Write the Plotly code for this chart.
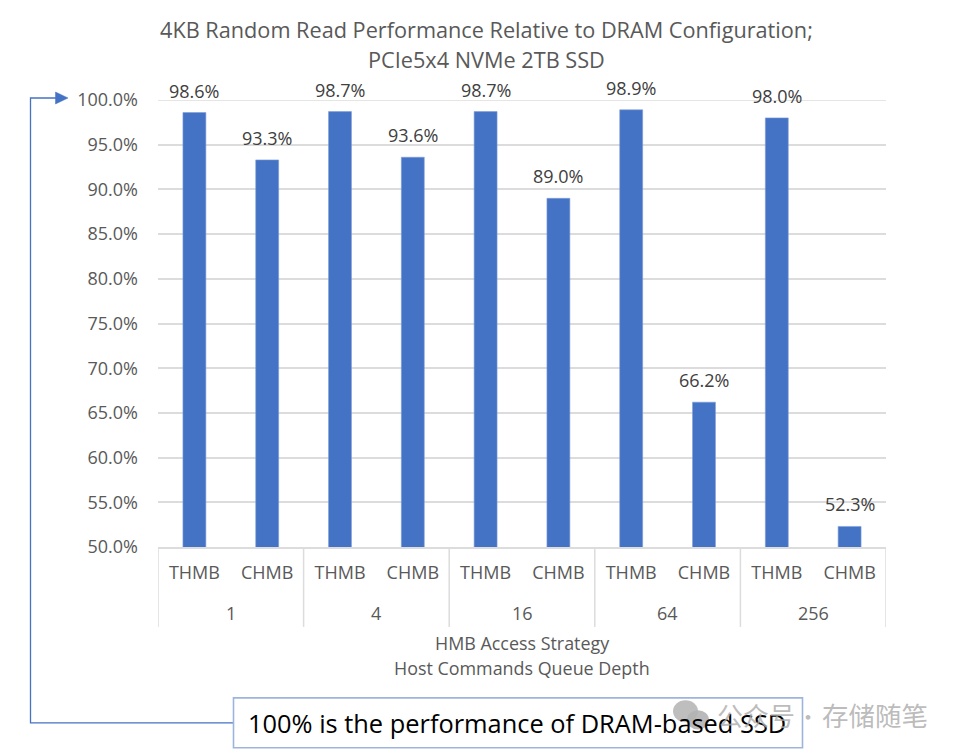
import plotly.graph_objects as go

# Chart data
queue_depths = ["1", "4", "16", "64", "256"]
strategies = ["THMB", "CHMB"]
values = [98.6, 93.3, 98.7, 93.6, 98.7, 89.0, 98.9, 66.2, 98.0, 52.3]
y_ticks = [50, 55, 60, 65, 70, 75, 80, 85, 90, 95, 100]

title_lines = ["4KB Random Read Performance Relative to DRAM Configuration;", "PCIe5x4 NVMe 2TB SSD"]
axis_lines = ["HMB Access Strategy", "Host Commands Queue Depth"]
note_text = "100% is the performance of DRAM-based SSD"
mark_parts = ["公众号", "·", "存储随笔"]

W, H = 960, 754
L, R, T, B = 158, 886, 99.5, 547
FONT = "Open Sans"
GREY = "#595959"
BLUE = "#4472c4"
GRID = "#dcdcdc"


def px(x):
    return (x - L) / (R - L)


def py(y):
    return (B - y) / (B - T)


positions = list(range(len(values)))
labels = [strategies[i % 2] for i in positions]

fig = go.Figure(
    go.Bar(
        x=positions,
        y=values,
        width=0.315,
        marker=dict(color=BLUE, line=dict(color="#7f9dd6", width=0.6)),
        hoverinfo="skip",
    )
)

shapes = []
annotations = []


def page_text(x, y, text, size, color=GREY, **kw):
    annotations.append(dict(xref="paper", yref="paper", x=px(x), y=py(y), text=text, showarrow=False,
                            xanchor=kw.pop("xanchor", "center"), yanchor="middle",
                            font=dict(family=kw.pop("family", FONT), size=size, color=color), **kw))


# Value labels sit a fixed distance above each bar
for pos, val in zip(positions, values):
    annotations.append(dict(xref="x", yref="y", x=pos, y=val, text=f"{val:.1f}%", showarrow=False,
                            yanchor="bottom", yshift=8, font=dict(family=FONT, size=18, color="#404040")))

# The axis drops its gridline at the top of the range, so the 100% rule is added here
shapes.append(dict(type="line", xref="paper", yref="y", x0=0, x1=1, y0=y_ticks[-1], y1=y_ticks[-1],
                   line=dict(color=GRID, width=1.5), layer="below"))

# Group separators and queue depth labels under the axis
group_w = len(strategies)
for g in range(len(queue_depths) + 1):
    shapes.append(dict(type="line", xref="x", yref="paper", x0=g * group_w - 0.5, x1=g * group_w - 0.5,
                       y0=py(627), y1=0, line=dict(color=GRID, width=1.5), layer="below"))
for g, depth in enumerate(queue_depths):
    annotations.append(dict(xref="x", yref="paper", x=g * group_w + 0.5, y=py(613), text=depth, showarrow=False,
                            yanchor="middle", font=dict(family=FONT, size=18, color=GREY)))

# Two line chart title and axis caption
page_text(486, 28.5, title_lines[0], 21.7, color="#595959")
page_text(486, 58.5, title_lines[1], 21.7, color="#595959")
page_text(522, 643.5, axis_lines[0], 17.9)
page_text(522, 668.5, axis_lines[1], 17.9)

# Bracket leading from the note up to the 100% tick
shapes.append(dict(type="path", xref="paper", yref="paper",
                   path=f"M {px(233)} {py(723)} L {px(30.5)} {py(723)} L {px(30.5)} {py(97.5)} L {px(56)} {py(97.5)}",
                   line=dict(color=BLUE, width=1.3), layer="above"))
shapes.append(dict(type="path", xref="paper", yref="paper",
                   path=f"M {px(55.5)} {py(91.5)} L {px(68)} {py(97.5)} L {px(55.5)} {py(103.5)} Z",
                   fillcolor=BLUE, line=dict(color=BLUE, width=0.5), layer="above"))

# Note box
shapes.append(dict(type="rect", xref="paper", yref="paper", x0=px(233.5), y0=py(698), x1=px(802.5), y1=py(748),
                   fillcolor="white", line=dict(color="#9db5de", width=1.6), layer="above"))
page_text(516.5, 723.5, note_text, 25.4, color="#000000")

# Watermark: chat bubble icon and account name
for cx, cy, r, op in [(685.5, 711.5, 12.5, 0.85), (698, 720, 11, 0.9)]:
    shapes.append(dict(type="circle", xref="paper", yref="paper", x0=px(cx - r), x1=px(cx + r),
                       y0=py(cy - r * 0.88), y1=py(cy + r * 0.88), fillcolor="#b3b3b3", opacity=op,
                       line=dict(width=0), layer="above"))
MARK = "rgba(170,170,170,0.8)"
page_text(756, 715, mark_parts[0], 26, color=MARK, family="Noto Sans CJK SC")
page_text(808, 715, mark_parts[1], 22, color=MARK, family="Noto Sans CJK SC")
page_text(930, 715, mark_parts[2], 26.5, color=MARK, xanchor="right", family="Noto Sans CJK SC")

fig.update_layout(
    width=W,
    height=H,
    margin=dict(l=L, r=W - R, t=T, b=H - B, pad=0),
    paper_bgcolor="white",
    plot_bgcolor="white",
    showlegend=False,
    shapes=shapes,
    annotations=annotations,
    xaxis=dict(
        range=[-0.5, len(values) - 0.5],
        tickmode="array",
        tickvals=positions,
        ticktext=labels,
        ticks="",
        ticklabelstandoff=9,
        tickfont=dict(family=FONT, size=18, color=GREY),
        showgrid=False,
        showline=True,
        linecolor=GRID,
        linewidth=1.5,
        zeroline=False,
    ),
    yaxis=dict(
        range=[50, 100],
        tickmode="array",
        tickvals=y_ticks,
        ticktext=[f"{v:.1f}%" for v in y_ticks],
        ticks="",
        ticklabelstandoff=19,
        tickfont=dict(family=FONT, size=18, color=GREY),
        gridcolor=GRID,
        gridwidth=1.5,
        showline=False,
        zeroline=False,
    ),
)

fig.write_html("out.html", config=dict(displayModeBar=False))
